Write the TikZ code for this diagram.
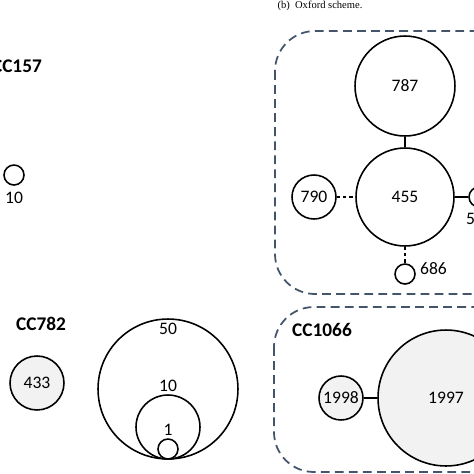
\documentclass[tikz,border=0pt]{standalone}
\usepackage{fontspec}
\setmainfont{Carlito}
\newfontfamily\capfont{Liberation Serif}
\usetikzlibrary{calc}
\definecolor{boxblue}{HTML}{44546A}
\definecolor{bubfill}{HTML}{F2F2F2}
\tikzset{>=latex}
\tikzset{
  bub/.style={draw, circle, line width=0.9pt, inner sep=0pt, minimum size=#1*0.04cm, font=\fontsize{10}{12}\selectfont},
  num/.style={inner sep=1pt, font=\fontsize{10}{12}\selectfont},
  cclabel/.style={inner sep=1pt, font=\fontsize{11}{13}\selectfont\bfseries},
  ccbox/.style={draw=boxblue, line width=1pt, dash pattern=on 5pt off 3pt, rounded corners=0.8cm},
  link/.style={line width=0.9pt},
  dlink/.style={line width=0.9pt, dash pattern=on 2pt off 1.5pt},
}

\begin{document}
\begin{tikzpicture}[x=0.02cm, y=-0.02cm]
\clip (0,0) rectangle (474,474);
\node[inner sep=0pt, font=\capfont\fontsize{6}{7}\selectfont] (cap) at (320,6) {(b)\enspace Oxford scheme.};

% left column
\node[cclabel, anchor=east] (cc157) at (44,66) {CC157};
\node[bub=10] (s10) at (14,175) {};
\node[num] (t10a) at (14,198) {10};

\node[cclabel] (cc782) at (41,324) {CC782};
\node[bub=27, fill=bubfill] (s433) at (37,383) {433};

\node[bub=70] (s50) at (168,389) {};
\node[bub=32] (s10b) at (168,427) {};
\node[bub=10] (s1) at (168,449) {};
\node[num] (t50) at (168,329) {50};
\node[num] (t10b) at (168,386) {10};
\node[num] (t1) at (168,430) {1};

% upper box
\draw[ccbox] (275,31) rectangle (560,294);
\node[bub=50] (s787) at (405,86) {787};
\node[bub=49] (s455) at (405,197) {455};
\node[bub=22] (s790) at (314,197) {790};
\node[bub=10] (s56) at (479,197) {};
\node[num, anchor=west] (t56) at (464,219) {56};
\node[bub=10] (s686) at (405,274) {};
\node[num, anchor=west] (t686) at (418,269) {686};
\draw[link] (s787) -- (s455);
\draw[dlink] (s790) -- (s455);
\draw[link] (s455) -- (s56);
\draw[dlink] (s455) -- (s686);

% lower box
\draw[ccbox] (274,307) rectangle (560,472);
\node[cclabel] (cc1066) at (322,330) {CC1066};
\node[bub=22, fill=bubfill] (s1998) at (341,398) {1998};
\node[bub=68, fill=bubfill] (s1997) at (446,398) {1997};
\draw[link] (s1998) -- (s1997);
\end{tikzpicture}
\end{document}
